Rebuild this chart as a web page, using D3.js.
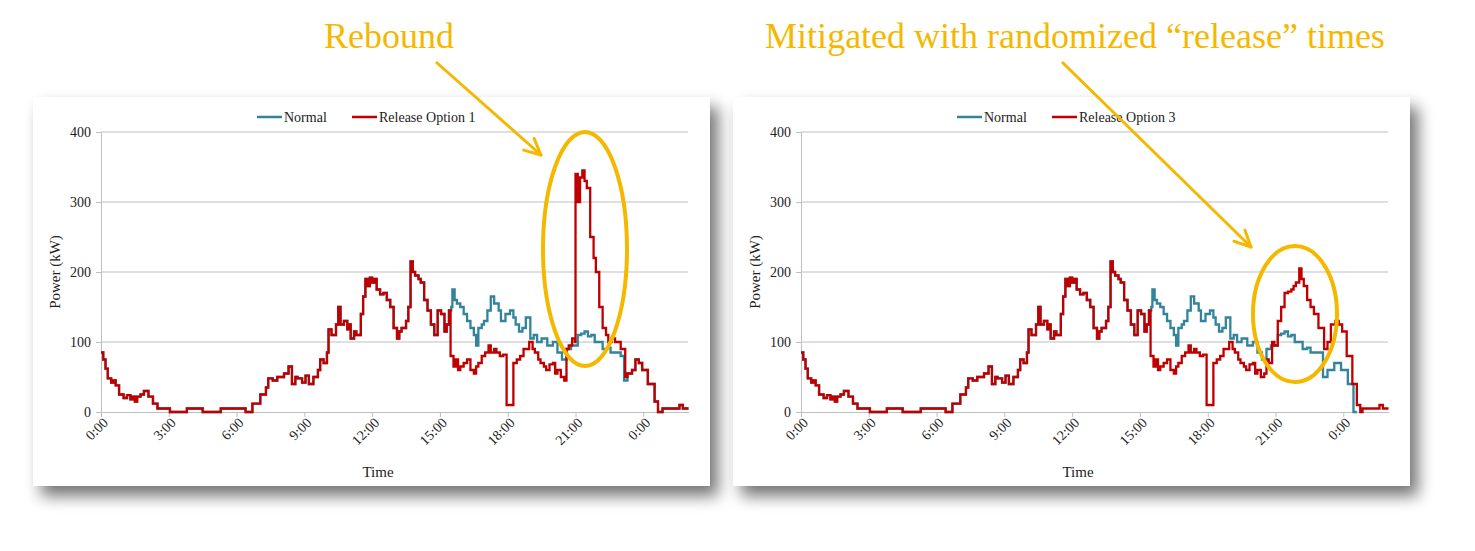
<!DOCTYPE html>
<html><head><meta charset="utf-8">
<script src="https://cdn.jsdelivr.net/npm/d3@7"></script>
<style>body{margin:0;background:#fff}svg{display:block}</style>
</head><body>
<svg id="c" width="1475" height="551"></svg>
<script>
const xTickLabels=["0:00","3:00","6:00","9:00","12:00","15:00","18:00","21:00","0:00"];
const yTicks=[0,100,200,300,400];
const titles=["Rebound","Mitigated with randomized \u201crelease\u201d times"];
// shared profile 0:00–15:30 (hour, kW)
const commonT=[0,0.1,0.2,0.3,0.45,0.55,0.65,0.8,1.0,1.15,1.3,1.4,1.5,1.6,1.75,1.9,2.1,2.3,2.5,3.05,3.8,4.5,5.3,6.4,6.7,7.05,7.3,7.4,7.6,7.8,8.1,8.3,8.45,8.6,8.7,8.9,9.05,9.2,9.4,9.6,9.7,9.85,10.0,10.07,10.2,10.4,10.5,10.6,10.75,10.9,11.0,11.05,11.2,11.3,11.5,11.6,11.7,11.8,11.9,12.0,12.1,12.2,12.35,12.5,12.65,12.8,12.95,13.1,13.2,13.3,13.5,13.6,13.7,13.8,13.9,14.05,14.15,14.3,14.45,14.6,14.75,14.9,15.05,15.2,15.3,15.4];
const commonV=[85,75,62,48,42,45,38,25,20,24,18,22,15,22,25,30,22,12,5,0,5,0,5,0,12,25,35,48,45,50,55,65,40,50,48,42,52,40,50,60,75,70,85,118,110,125,150,125,130,118,125,105,115,110,140,165,190,180,192,185,190,175,168,170,160,150,120,105,115,120,130,150,215,200,195,190,185,160,145,125,110,145,140,115,125,145];
const normalT=[15.5,15.55,15.65,15.75,15.9,16.05,16.2,16.35,16.5,16.6,16.7,16.85,16.95,17.1,17.25,17.4,17.6,17.7,17.9,18.1,18.25,18.35,18.5,18.65,18.8,19.0,19.15,19.3,19.5,19.75,20.0,20.2,20.4,20.6,20.8,21.1,21.25,21.4,21.55,21.7,21.85,22.0,22.2,22.4,22.55,22.8,23.0,23.15];
const normalV=[150,175,160,155,150,140,130,120,110,95,120,125,130,145,165,155,145,130,140,145,135,125,115,120,135,105,110,100,105,95,100,85,75,90,95,110,112,115,108,110,100,100,90,92,85,85,80,45];
const tailT=[23.3,23.5,23.65,23.8,23.95,24.2,24.5,24.65,24.85,25.5,25.6,25.75,26.0];
const tailV=[55,60,75,70,60,40,15,0,5,5,10,5,5];
const rel1T=[15.47,15.6,15.7,15.8,15.9,16.05,16.2,16.35,16.5,16.6,16.7,16.85,17.0,17.15,17.25,17.4,17.5,17.65,17.8,17.95,18.25,18.4,18.55,18.7,18.95,19.1,19.2,19.35,19.45,19.6,19.7,19.85,20.0,20.1,20.2,20.35,20.5,20.6,20.7,20.85,20.97,21.0,21.1,21.2,21.3,21.4,21.5,21.65,21.8,21.9,22.05,22.2,22.35,22.45,22.6,22.75,23.0,23.2];
const rel1V=[80,65,75,60,65,70,75,60,55,65,70,80,85,95,85,90,85,80,82,10,70,75,80,90,100,90,85,75,70,65,60,68,70,55,60,50,45,90,95,105,100,340,300,335,345,330,320,250,220,200,150,120,110,100,105,100,90,50];
const rel3T=[20.5,20.6,20.7,20.85,20.95,21.1,21.25,21.4,21.55,21.7,21.8,21.9,22.05,22.15,22.25,22.4,22.55,22.7,22.9,23.15,23.3,23.45,23.65,23.8,23.95,24.15,24.4,24.6,24.75];
const rel3V=[55,75,70,100,95,130,150,170,172,175,180,185,205,190,180,160,150,140,120,90,100,125,130,125,115,80,40,10,0];
const norm3T=[22.85,23.1,23.3,23.6,23.9,24.2,24.45,24.6];
const norm3V=[85,50,60,70,60,40,0,0];
const endT=[24.85,25.5,25.6,25.75,26.0];
const endV=[5,5,10,5,5];

const zip=(t,v)=>t.map((h,i)=>[h,v[i]]);
const common=zip(commonT,commonV);
const normalFull=common.concat(zip(normalT,normalV),zip(tailT,tailV));
const rel1Full=common.concat(zip(rel1T,rel1V),zip(tailT,tailV));
const rel3Full=common.concat(zip(rel1T,rel1V).filter(d=>d[0]<20.5),zip(rel3T,rel3V),zip(endT,endV));
const norm3Full=common.concat(zip(normalT,normalV).filter(d=>d[0]<22.85),zip(norm3T,norm3V));

const svg=d3.select("#c");
const defs=svg.append("defs");
const f=defs.append("filter").attr("id","sh").attr("x","-10%").attr("y","-10%").attr("width","125%").attr("height","130%");
f.append("feGaussianBlur").attr("in","SourceAlpha").attr("stdDeviation",8);
f.append("feOffset").attr("dx",8).attr("dy",10).attr("result","b");
f.append("feComponentTransfer").append("feFuncA").attr("type","linear").attr("slope",0.55);
const m=f.append("feMerge");m.append("feMergeNode");m.append("feMergeNode").attr("in","SourceGraphic");

const FONT="'Liberation Serif','Times New Roman',serif";
const gold="#F5B800";

function panel(ox,normal,rel,relLabel){
  const g=svg.append("g").attr("transform",`translate(${ox},0)`);
  g.append("rect").attr("x",33).attr("y",97).attr("width",677).attr("height",389).attr("fill","#fff").attr("filter","url(#sh)");
  const x=d3.scaleLinear().domain([0,26]).range([101,688.5]);
  const y=d3.scaleLinear().domain([0,400]).range([412,132]);
  g.append("g").selectAll("line").data(yTicks.slice(1)).join("line")
    .attr("x1",101).attr("x2",688).attr("y1",d=>y(d)).attr("y2",d=>y(d)).attr("stroke","#bfbfbf").attr("stroke-width",1);
  const ya=g.append("g").attr("transform","translate(101,0)").call(d3.axisLeft(y).tickValues(yTicks).tickSize(5).tickSizeOuter(0));
  ya.select(".domain").attr("stroke","#bfbfbf");
  ya.selectAll(".tick line").attr("stroke","#bfbfbf");
  ya.selectAll("text").attr("font-family",FONT).attr("font-size",14).attr("fill","#222").attr("dx",-2);
  const xa=g.append("g").attr("transform","translate(0,412)").call(d3.axisBottom(x).tickValues(d3.range(0,25,3)).tickFormat((d,i)=>xTickLabels[i]).tickSize(5).tickSizeOuter(0));
  xa.select(".domain").attr("stroke","#bfbfbf");
  xa.selectAll(".tick line").attr("stroke","#bfbfbf");
  xa.selectAll("text").attr("font-family",FONT).attr("font-size",14).attr("fill","#222")
    .attr("text-anchor","end").attr("transform","translate(4,8) rotate(-45)").attr("dy","0.35em").attr("y",0);
  g.append("text").attr("x",378).attr("y",477).attr("text-anchor","middle").attr("font-family",FONT).attr("font-size",15).attr("fill","#222").text("Time");
  g.append("text").attr("transform","translate(60,272) rotate(-90)").attr("text-anchor","middle").attr("font-family",FONT).attr("font-size",15).attr("fill","#222").text("Power (kW)");
  const line=d3.line().x(d=>x(d[0])).y(d=>y(d[1])).curve(d3.curveStepAfter);
  g.append("path").datum(normal).attr("d",line).attr("fill","none").attr("stroke","#31849B").attr("stroke-width",2.3);
  g.append("path").datum(rel).attr("d",line).attr("fill","none").attr("stroke","#C00000").attr("stroke-width",2.3);
  const lg=[["#31849B","Normal",257],["#C00000",relLabel,352]];
  lg.forEach(([c,t,lx])=>{
    g.append("line").attr("x1",lx).attr("x2",lx+25).attr("y1",117).attr("y2",117).attr("stroke",c).attr("stroke-width",2.5);
    g.append("text").attr("x",lx+27).attr("y",122).attr("font-family",FONT).attr("font-size",14).attr("fill","#222").text(t);
  });
  return g;
}
panel(0,normalFull,rel1Full,"Release Option 1");
panel(700,norm3Full,rel3Full,"Release Option 3");

function arrow(x1,y1,x2,y2){
  svg.append("line").attr("x1",x1).attr("y1",y1).attr("x2",x2).attr("y2",y2).attr("stroke",gold).attr("stroke-width",3);
  const a=Math.atan2(y2-y1,x2-x1),L=18;
  [a+Math.PI-0.45,a+Math.PI+0.45].forEach(b=>{
    svg.append("line").attr("x1",x2).attr("y1",y2).attr("x2",x2+L*Math.cos(b)).attr("y2",y2+L*Math.sin(b)).attr("stroke",gold).attr("stroke-width",3).attr("stroke-linecap","round");
  });
}
svg.append("ellipse").attr("cx",585).attr("cy",249).attr("rx",42).attr("ry",117).attr("fill","none").attr("stroke",gold).attr("stroke-width",4);
svg.append("ellipse").attr("cx",1295).attr("cy",314).attr("rx",42).attr("ry",68).attr("fill","none").attr("stroke",gold).attr("stroke-width",4);
arrow(436,62,541,155);
arrow(1062,62,1251,247);
svg.append("text").attr("x",389).attr("y",48).attr("text-anchor","middle").attr("font-family",FONT).attr("font-size",36).attr("fill",gold).text(titles[0]);
svg.append("text").attr("x",1075).attr("y",48).attr("text-anchor","middle").attr("font-family",FONT).attr("font-size",36).attr("fill",gold).text(titles[1]);
</script>
</body></html>
